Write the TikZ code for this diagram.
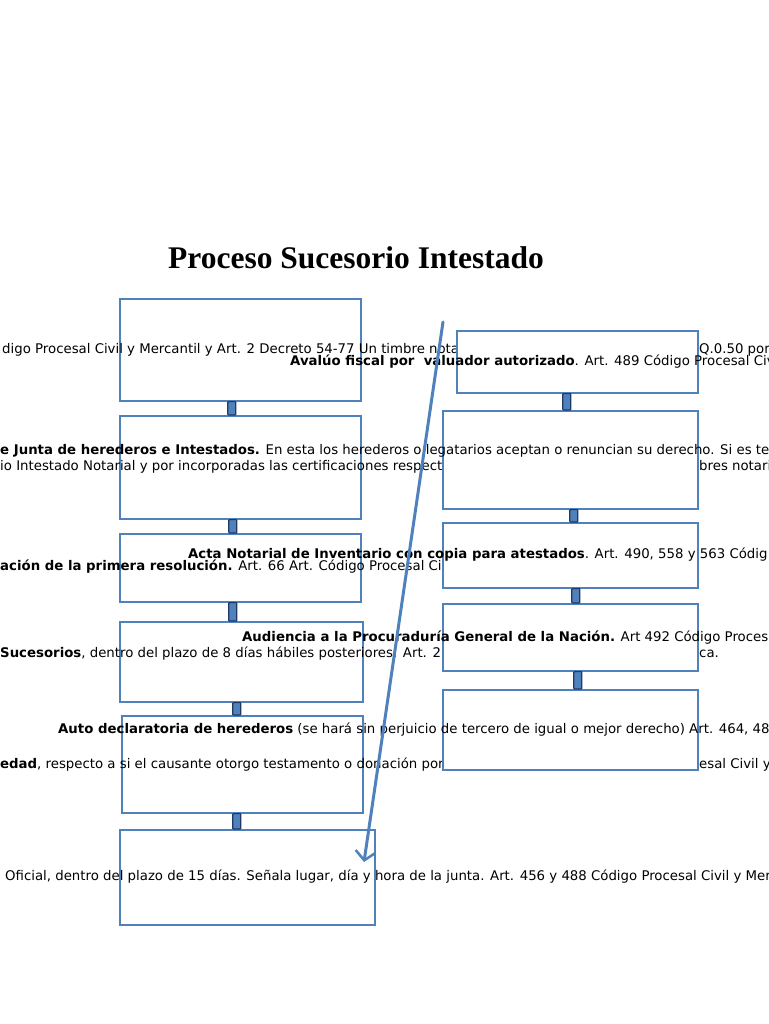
\documentclass[tikz,border=0pt]{standalone}
\usepackage{fontspec}
\setmainfont{DejaVu Sans}
\newfontfamily\titlefont{Liberation Serif}
\usetikzlibrary{calc,arrows.meta}
\definecolor{boxblue}{RGB}{79,129,189}
\definecolor{linknavy}{RGB}{31,56,100}

\begin{document}
\begin{tikzpicture}[x=1pt,y=-1pt,
  paso/.style={draw=boxblue, line width=1.6pt, fill=white, inner sep=0pt, anchor=north west},
  enlace/.style={draw=linknavy, fill=boxblue, line width=1.2pt, rounded corners=0.8pt},
  renglon/.style={anchor=base west, inner sep=0pt, font=\fontsize{13.3}{15}\selectfont},
  flecha/.style={draw=boxblue, line width=3pt, line cap=round,
    -{Straight Barb[length=9pt,width=20pt,line width=2.5pt]}}]
%% page
\useasboundingbox (0,0) rectangle (768,1024);
\clip (0,0) rectangle (768,1024);
\node[anchor=base, inner sep=0pt, font={\titlefont\bfseries\fontsize{31.5}{36}\selectfont}]
  (titulo) at (356,268) {Proceso Sucesorio Intestado};

%% left column
\node[paso, minimum width=241pt, minimum height=102pt] (l1) at (119,298) {};
\node[paso, minimum width=241pt, minimum height=103pt] (l2) at (119,415) {};
\node[paso, minimum width=241pt, minimum height=68pt] (l3) at (119,533) {};
\node[paso, minimum width=243pt, minimum height=80pt] (l4) at (119,621) {};
\node[paso, minimum width=241pt, minimum height=97pt] (l5) at (121,715) {};
\node[paso, minimum width=255pt, minimum height=95pt] (l6) at (119,829) {};
% links between left boxes
\draw[enlace] ($(l1.south)+(-12.5,0)$) rectangle ($(l2.north)+(-4.5,0)$);
\draw[enlace] ($(l2.south)+(-11.5,0)$) rectangle ($(l3.north)+(-3.5,0)$);
\draw[enlace] ($(l3.south)+(-11.5,0)$) rectangle ($(l4.north)+(-4.5,0)$);
\draw[enlace] ($(l4.south)+(-8.5,0)$) rectangle ($(l5.north)+(-1.5,0)$);
\draw[enlace] ($(l5.south)+(-9.5,0)$) rectangle ($(l6.north)+(-6.5,0)$);
% left texts
\node[renglon] (ta) at (2,353) {digo Procesal Civil y Mercantil y Art. 2 Decreto 54-77 Un timbre nota};
\node[renglon] (tb) at (699,353) {Q.0.50 por};
\node[renglon] (td) at (0,470) {io Intestado Notarial y por incorporadas las certificaciones respect};
\node[renglon] (te) at (699,470) {bres notari};
\node[renglon] (tf) at (0,570) {\textbf{ación de la primera resolución.} Art. 66 Art. Código Procesal Civ};
\node[renglon] (th) at (0,657) {\textbf{Sucesorios}, dentro del plazo de 8 días hábiles posteriores. Art. 2};
\node[renglon] (ti) at (699,657) {ca.};
\node[renglon] (tj) at (0,768) {\textbf{edad}, respecto a si el causante otorgo testamento o donación por};
\node[renglon] (tk) at (699,768) {esal Civil y};
\node[renglon] (tl) at (5,880) {Oficial, dentro del plazo de 15 días. Señala lugar, día y hora de la junta. Art. 456 y 488 Código Procesal Civil y Mer};

%% right column
\node[paso, minimum width=241pt, minimum height=62pt] (r1) at (456,330) {};
\node[paso, minimum width=255pt, minimum height=98pt] (r2) at (442,410) {};
\node[paso, minimum width=255pt, minimum height=65pt] (r3) at (442,522) {};
\node[paso, minimum width=255pt, minimum height=67pt] (r4) at (442,603) {};
\node[paso, minimum width=255pt, minimum height=80pt] (r5) at (442,689) {};
% links between right boxes
\draw[enlace] ($(r1.south)+(-14.5,0)$) rectangle ($(r2.north)+(0.5,0)$);
\draw[enlace] ($(r2.south)+(-0.5,0)$) rectangle ($(r3.north)+(7.5,0)$);
\draw[enlace] ($(r3.south)+(1.5,0)$) rectangle ($(r4.north)+(9.5,0)$);
\draw[enlace] ($(r4.south)+(3.5,0)$) rectangle ($(r5.north)+(11.5,0)$);
% right texts
\node[renglon] (tm) at (290,365) {\textbf{Avalúo fiscal por\ \ valuador autorizado}. Art. 489 Código Procesal Civ};
\node[renglon] (tn) at (0,454) {\textbf{e Junta de herederos e Intestados.} En esta los herederos o legatarios aceptan o renuncian su derecho. Si es tes};
\node[renglon] (to) at (188,558) {\textbf{Acta Notarial de Inventario con copia para atestados}. Art. 490, 558 y 563 Códig};
\node[renglon] (tp) at (242,641) {\textbf{Audiencia a la Procuraduría General de la Nación.} Art 492 Código Proces};
\node[renglon] (tq) at (58,733) {\textbf{Auto declaratoria de herederos} (se hará sin perjuicio de tercero de igual o mejor derecho) Art. 464, 48};

%% long arrow
\coordinate (arriba) at (443,322);
\coordinate (punta) at (364,862);
\draw[flecha] (arriba) -- (punta);
\end{tikzpicture}
\end{document}
